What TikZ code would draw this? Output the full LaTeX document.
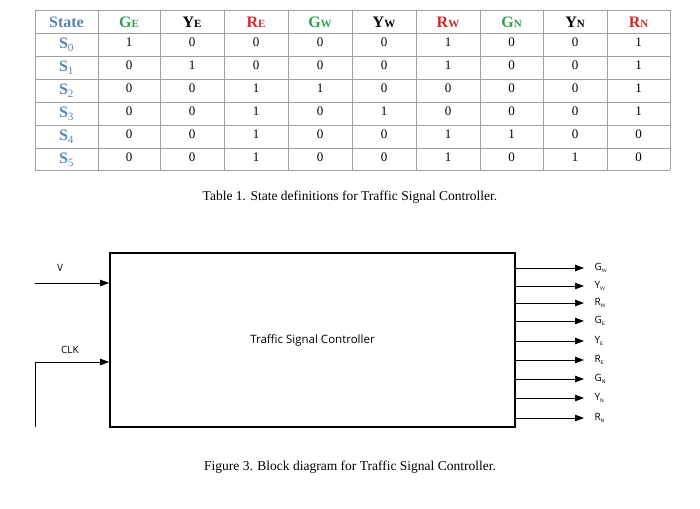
\documentclass[tikz,border=0pt]{standalone}
\usepackage{fontspec}
\setmainfont{Liberation Serif}
\newfontfamily\sans{Open Sans}
\usetikzlibrary{arrows.meta}
\definecolor{stb}{HTML}{5A84B4}
\definecolor{gg}{HTML}{2E9E4F}
\definecolor{rr}{HTML}{D0282A}
\definecolor{grd}{HTML}{A0A0A0}
\begin{document}
\begin{tikzpicture}[x=1pt,y=-1pt,
  cell/.style={font=\fontsize{13}{13}\selectfont},
  hd/.style={font=\bfseries\fontsize{16}{16}\selectfont},
  st/.style={font=\bfseries\fontsize{16}{16}\selectfont,text=stb},
  captxt/.style={font=\fontsize{13.5}{14}\selectfont},
  lbl/.style={font=\sans\fontsize{10}{10}\selectfont,anchor=west},
  arr/.style={-{Triangle[length=9pt,width=6.5pt]},line width=0.9pt}]
\useasboundingbox (0,0) rectangle (700,508);
% table grid
\foreach \y in {10,33,56,79,102,125,148,170} \draw[grd,line width=0.8pt] (35,\y) -- (670,\y);
\foreach \x in {35,98,160,224,288,352,416,480,543,607,670} \draw[grd,line width=0.8pt] (\x,10) -- (\x,170);
% header
\node[st] (h0) at (66.5,22) {State};
\newcommand{\hsub}[2]{#1{\fontsize{11}{11}\selectfont #2}}
\node[hd,text=gg] (h1) at (129,22) {\hsub{G}{E}};
\node[hd] (h2) at (192,22) {\hsub{Y}{E}};
\node[hd,text=rr] (h3) at (256,22) {\hsub{R}{E}};
\node[hd,text=gg] (h4) at (320,22) {\hsub{G}{W}};
\node[hd] (h5) at (384,22) {\hsub{Y}{W}};
\node[hd,text=rr] (h6) at (448,22) {\hsub{R}{W}};
\node[hd,text=gg] (h7) at (511.5,22) {\hsub{G}{N}};
\node[hd] (h8) at (575,22) {\hsub{Y}{N}};
\node[hd,text=rr] (h9) at (638.5,22) {\hsub{R}{N}};
% rows
\foreach \r/\vals [count=\i from 0] in {0/{1,0,0,0,0,1,0,0,1},1/{0,1,0,0,0,1,0,0,1},2/{0,0,1,1,0,0,0,0,1},3/{0,0,1,0,1,0,0,0,1},4/{0,0,1,0,0,1,1,0,0},5/{0,0,1,0,0,1,0,1,0}}{
  \pgfmathsetmacro{\yy}{44.5+23*\i}
  \node[st] (s\r) at (66.5,\yy) {S$_{\mathrm{\r}}$};
  \foreach \v [count=\j from 1] in \vals {
    \pgfmathsetmacro{\xx}{{0,129,192,256,320,384,448,511.5,575,638.5}[\j]}
    \node[cell] (c\r\j) at (\xx,\yy-2) {\v};
  }
}
\node[captxt] (t1) at (350,197) {Table 1. State definitions for Traffic Signal Controller.};
% block diagram
\node[draw,line width=1.8pt,minimum width=405pt,minimum height=174pt,inner sep=0pt,font=\sans\fontsize{11.5}{12}\selectfont] (tsc) at (312.5,340) {Traffic Signal Controller};
\coordinate (vin) at (35,283);
\draw[arr] (vin) -- (vin -| tsc.west);
\node[font=\sans\fontsize{10}{10}\selectfont] (vl) at (60,268) {V};
\coordinate (clk0) at (35,427);
\coordinate (clk1) at (35,362);
\draw[arr] (clk0) -- (clk1) -- (clk1 -| tsc.west);
\node[font=\sans\fontsize{10}{10}\selectfont] (cl) at (70,350) {CLK};
\foreach \y/\a/\b [count=\k] in {268/G/W,286/Y/W,303/R/W,321/G/E,341/Y/E,360/R/E,379/G/N,398/Y/N,418/R/N}{
  \coordinate (o\k) at (584,\y);
  \draw[arr] (o\k -| tsc.east) -- (o\k);
  \node[lbl] (ol\k) at (591,\y) {\a$_{\mathsf{\scriptscriptstyle\b}}$};
}
\node[captxt] (f3) at (350,467) {Figure 3. Block diagram for Traffic Signal Controller.};
\end{tikzpicture}
\end{document}
